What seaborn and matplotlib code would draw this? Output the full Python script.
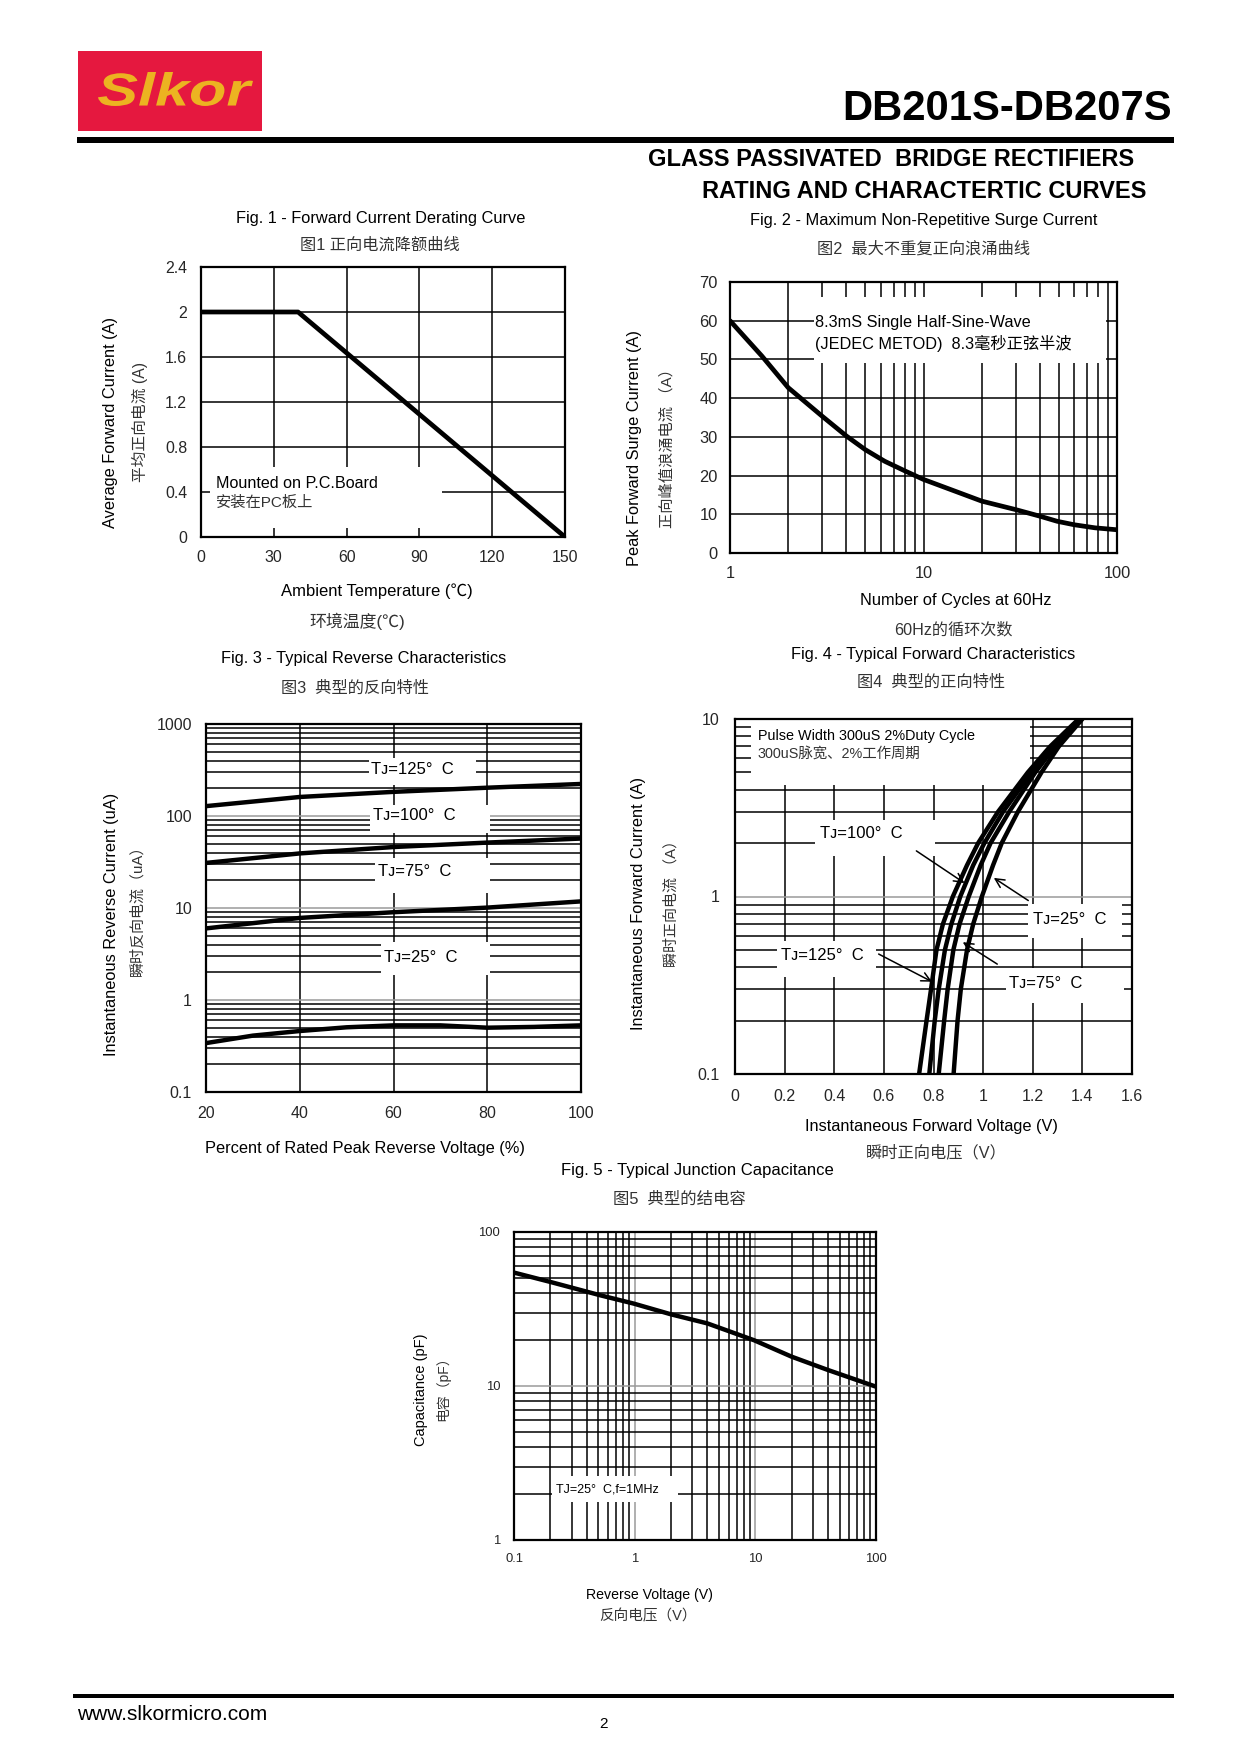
import numpy as np
import pandas as pd
import matplotlib
matplotlib.use('Agg')
import matplotlib.pyplot as plt
import seaborn as sns
from matplotlib.patches import Rectangle, PathPatch
from matplotlib.ticker import FixedLocator, FixedFormatter, NullFormatter, LogLocator
from matplotlib.textpath import TextPath
from matplotlib.font_manager import FontProperties
from matplotlib.transforms import Affine2D

# ---------------- data ----------------
fig1_temp = [0, 40, 150]
fig1_current = [2.0, 2.0, 0.0]
fig1_xticks = [0, 30, 60, 90, 120, 150]
fig1_yticks = [0, 0.4, 0.8, 1.2, 1.6, 2.0, 2.4]
fig1_yticklabels = ['0', '0.4', '0.8', '1.2', '1.6', '2', '2.4']

fig2_cycles = [1, 1.46, 2.0, 3.0, 4.0, 5.0, 6.3, 8.1, 10, 13.8, 20, 30, 40, 49, 60, 77, 100]
fig2_current = [60, 50.9, 42.7, 35.3, 30.2, 26.7, 23.7, 21.1, 19.0, 16.4, 13.4, 11.2, 9.5, 8.2, 7.3, 6.5, 6.0]
fig2_yticks = [0, 10, 20, 30, 40, 50, 60, 70]
fig2_xticks = [1, 10, 100]

fig3_pct = [20, 40, 60, 80, 100]
fig3_tj125 = [128, 161, 183, 203, 223]
fig3_tj100 = [30.9, 39.2, 46.0, 51.4, 56.9]
fig3_tj75 = [6.0, 7.8, 9.0, 10.1, 11.8]
fig3_pct25 = [20, 30, 40, 50, 60, 70, 80, 90, 100]
fig3_tj25 = [0.34, 0.41, 0.46, 0.505, 0.53, 0.53, 0.50, 0.51, 0.53]
fig3_yticks = [0.1, 1, 10, 100, 1000]
fig3_yticklabels = ['0.1', '1', '10', '100', '1000']
fig3_xticks = [20, 40, 60, 80, 100]

fig4_current = [0.1, 0.2, 0.3, 0.5, 0.7, 1.0, 1.5, 2.0, 3.0, 5.0, 7.0, 10.0]
fig4_v125 = [0.742, 0.772, 0.790, 0.812, 0.838, 0.878, 0.935, 0.980, 1.060, 1.180, 1.270, 1.385]
fig4_v100 = [0.783, 0.805, 0.821, 0.846, 0.872, 0.908, 0.960, 1.005, 1.080, 1.195, 1.280, 1.390]
fig4_v75 = [0.821, 0.843, 0.857, 0.880, 0.905, 0.942, 0.990, 1.030, 1.105, 1.210, 1.290, 1.395]
fig4_v25 = [0.881, 0.897, 0.910, 0.935, 0.960, 0.995, 1.040, 1.075, 1.140, 1.235, 1.305, 1.400]
fig4_xticks = [0, 0.2, 0.4, 0.6, 0.8, 1.0, 1.2, 1.4, 1.6]
fig4_xticklabels = ['0', '0.2', '0.4', '0.6', '0.8', '1', '1.2', '1.4', '1.6']
fig4_yticks = [0.1, 1, 10]
fig4_yticklabels = ['0.1', '1', '10']

fig5_volt = [0.1, 0.2, 0.52, 0.98, 2.0, 4.0, 9.8, 20, 40, 100]
fig5_cap = [54.5, 47.4, 38.8, 34.3, 29.2, 25.5, 19.8, 15.5, 12.7, 9.9]
fig5_xticks = [0.1, 1, 10, 100]
fig5_xticklabels = ['0.1', '1', '10', '100']
fig5_yticks = [1, 10, 100]
fig5_yticklabels = ['1', '10', '100']

# ---------------- style ----------------
sns.set_style('white')
plt.rcParams['font.family'] = ['Liberation Sans', 'Noto Sans CJK SC', 'DejaVu Sans']
plt.rcParams['axes.unicode_minus'] = False

W, H = 1240, 1754
fig = plt.figure(figsize=(W / 100, H / 100), dpi=100)
fig.patch.set_facecolor('white')

# overlay in pixel coordinates (drawn above the chart axes)
ov = fig.add_axes([0, 0, 1, 1])
ov.set_xlim(0, W)
ov.set_ylim(H, 0)
ov.axis('off')
ov.set_zorder(10)

CN = '#333333'
TS = 11.75   # figure title size
CS = 11.7    # chinese title size


def txt(x, y, s, size=11.5, ha='center', va='center', color='black', **kw):
    ov.text(x, y, s, fontsize=size, ha=ha, va=va, color=color, **kw)


def make_ax(l, t, r, b):
    ax = fig.add_axes([l / W, 1 - b / H, (r - l) / W, (b - t) / H])
    ax.set_facecolor('white')
    for s in ax.spines.values():
        s.set_visible(True)
        s.set_linewidth(1.6)
        s.set_color('black')
        s.set_zorder(5)
    ax.set_axisbelow(True)
    return ax


def whitebox(ax, x0, y0, x1, y1):
    r = Rectangle((x0 / W, 1 - y1 / H), (x1 - x0) / W, (y1 - y0) / H,
                  transform=fig.transFigure, facecolor='white', edgecolor='none', zorder=1.5)
    ax.add_patch(r)


# ---------------- header ----------------
ov.add_patch(Rectangle((78, 51), 184, 80, facecolor='#E5183F', edgecolor='none'))
tp = TextPath((0, 0), 'Slkor', size=100,
              prop=FontProperties(family='Liberation Sans', weight='bold', style='italic'))
ext = tp.get_extents()
tr = Affine2D().translate(-ext.x0, -ext.y0).scale(155 / ext.width, -34 / ext.height).translate(98, 106)
ov.add_patch(PathPatch(tr.transform_path(tp), facecolor='#ECB321', edgecolor='none'))

txt(1172, 109, 'DB201S-DB207S', size=30.2, ha='right', fontweight='bold')
ov.add_patch(Rectangle((77, 137), 1097, 6, facecolor='black', edgecolor='none'))
txt(648, 160, 'GLASS PASSIVATED  BRIDGE RECTIFIERS', size=17, ha='left', fontweight='bold')
txt(702, 191, 'RATING AND CHARACTERTIC CURVES', size=17, ha='left', fontweight='bold')

# footer
ov.add_patch(Rectangle((73, 1694), 1101, 4, facecolor='black', edgecolor='none'))
txt(77, 1714, 'www.slkormicro.com', size=15, ha='left')
txt(604, 1724, '2', size=11)

# ---------------- Fig 1 ----------------
ax1 = make_ax(201, 267, 565, 537)
sns.lineplot(x=fig1_temp, y=fig1_current, ax=ax1, color='black', lw=3.4, estimator=None, zorder=3)
ax1.set_xlim(0, 150)
ax1.set_ylim(0, 2.4)
ax1.set_xticks(fig1_xticks)
ax1.set_xticklabels([str(v) for v in fig1_xticks])
ax1.set_yticks(fig1_yticks)
ax1.set_yticklabels(fig1_yticklabels)
ax1.tick_params(which='both', length=0, labelsize=11.4)
ax1.tick_params(axis='y', pad=10)
ax1.tick_params(axis='x', pad=9)
ax1.grid(True, color='black', lw=1.1)
ax1.set_xlabel('')
ax1.set_ylabel('')
whitebox(ax1, 210, 467, 442, 528)
txt(216, 483, 'Mounted on P.C.Board', size=11.6, ha='left')
txt(216, 503, '安装在PC板上', size=11, ha='left', color=CN)
txt(381, 218, 'Fig. 1 - Forward Current Derating Curve', size=TS)
txt(380, 245, '图1 正向电流降额曲线', size=CS, color=CN)
txt(377, 591, 'Ambient Temperature (℃)', size=11.95)
txt(357, 621, '环境温度(℃)', size=12.2, color=CN)
txt(111, 422, 'Average Forward Current (A)', size=11.8, rotation=90)
txt(140, 422, '平均正向电流 (A)', size=11.3, rotation=90, color=CN)

# ---------------- Fig 2 ----------------
ax2 = make_ax(730, 282, 1117, 553)
ax2.set_xscale('log')
sns.lineplot(x=fig2_cycles, y=fig2_current, ax=ax2, color='black', lw=3.4, estimator=None, zorder=3)
ax2.set_xlim(1, 100)
ax2.set_ylim(0, 70)
ax2.xaxis.set_major_locator(FixedLocator(fig2_xticks))
ax2.xaxis.set_major_formatter(FixedFormatter(['1', '10', '100']))
ax2.xaxis.set_minor_locator(LogLocator(base=10, subs=np.arange(2, 10), numticks=20))
ax2.xaxis.set_minor_formatter(NullFormatter())
ax2.set_yticks(fig2_yticks)
ax2.set_yticklabels([str(v) for v in fig2_yticks])
ax2.tick_params(which='both', length=0, labelsize=11.8)
ax2.tick_params(axis='y', pad=9)
ax2.tick_params(axis='x', pad=9.5)
ax2.grid(True, which='major', color='black', lw=1.1)
ax2.grid(True, which='minor', axis='x', color='black', lw=1.1)
ax2.set_xlabel('')
ax2.set_ylabel('')
whitebox(ax2, 814, 297, 1106, 363)
txt(815, 323, '8.3mS Single Half-Sine-Wave', size=11.7, ha='left')
txt(815, 343, '(JEDEC METOD)  8.3毫秒正弦半波', size=11.7, ha='left')
txt(924, 221, 'Fig. 2 - Maximum Non-Repetitive Surge Current', size=TS)
txt(924, 249, '图2  最大不重复正向浪涌曲线', size=CS, color=CN)
txt(956, 601, 'Number of Cycles at 60Hz', size=11.8)
txt(953, 630, '60Hz的循环次数', size=11.6, color=CN)
txt(634, 448, 'Peak Forward Surge Current (A)', size=11.8, rotation=90)
txt(667, 445, '正向峰值浪涌电流 （A）', size=11, rotation=90, color=CN)

# ---------------- Fig 3 ----------------
ax3 = make_ax(206, 724, 581, 1092)
ax3.set_yscale('log')
for yy, xx in [(fig3_tj125, fig3_pct), (fig3_tj100, fig3_pct), (fig3_tj75, fig3_pct), (fig3_tj25, fig3_pct25)]:
    sns.lineplot(x=xx, y=yy, ax=ax3, color='black', lw=3.2, estimator=None, zorder=3)
ax3.set_xlim(20, 100)
ax3.set_ylim(0.1, 1000)
ax3.set_xticks(fig3_xticks)
ax3.set_xticklabels([str(v) for v in fig3_xticks])
ax3.yaxis.set_major_locator(FixedLocator(fig3_yticks))
ax3.yaxis.set_major_formatter(FixedFormatter(fig3_yticklabels))
ax3.yaxis.set_minor_locator(LogLocator(base=10, subs=np.arange(2, 10), numticks=20))
ax3.yaxis.set_minor_formatter(NullFormatter())
ax3.tick_params(which='both', length=0, labelsize=11.5)
ax3.tick_params(axis='y', pad=10)
ax3.tick_params(axis='x', pad=10)
ax3.grid(True, which='major', axis='x', color='black', lw=1.1)
ax3.grid(True, which='major', axis='y', color='#9a9a9a', lw=1.1)
ax3.grid(True, which='minor', axis='y', color='black', lw=1.1)
ax3.set_xlabel('')
ax3.set_ylabel('')
whitebox(ax3, 369, 758, 476, 785)
whitebox(ax3, 370, 805, 490, 833)
whitebox(ax3, 375, 858, 490, 893)
whitebox(ax3, 381, 942, 490, 975)
txt(412, 770, 'Tᴊ=125°  C', size=12)
txt(414, 816, 'Tᴊ=100°  C', size=12)
txt(415, 872, 'Tᴊ=75°  C', size=12)
txt(421, 958, 'Tᴊ=25°  C', size=12)
txt(364, 659, 'Fig. 3 - Typical Reverse Characteristics', size=TS)
txt(355, 688, '图3  典型的反向特性', size=CS, color=CN)
txt(365, 1149, 'Percent of Rated Peak Reverse Voltage (%)', size=11.8)
txt(112, 924, 'Instantaneous Reverse Current (uA)', size=11.8, rotation=90)
txt(137, 907, '瞬时反向电流（uA）', size=10.8, rotation=90, color=CN)

# ---------------- Fig 4 ----------------
ax4 = make_ax(735, 719, 1132, 1074)
ax4.set_yscale('log')
for vv in [fig4_v125, fig4_v100, fig4_v75, fig4_v25]:
    sns.lineplot(x=vv, y=fig4_current, ax=ax4, color='black', lw=3.2, estimator=None,
                 sort=False, zorder=3)
ax4.set_xlim(0, 1.6)
ax4.set_ylim(0.1, 10)
ax4.set_xticks(fig4_xticks)
ax4.set_xticklabels(fig4_xticklabels)
ax4.yaxis.set_major_locator(FixedLocator(fig4_yticks))
ax4.yaxis.set_major_formatter(FixedFormatter(fig4_yticklabels))
ax4.yaxis.set_minor_locator(LogLocator(base=10, subs=np.arange(2, 10), numticks=20))
ax4.yaxis.set_minor_formatter(NullFormatter())
ax4.tick_params(which='both', length=0, labelsize=11.5)
ax4.tick_params(axis='y', pad=11)
ax4.tick_params(axis='x', pad=10.5)
ax4.grid(True, which='major', axis='x', color='black', lw=1.1)
ax4.grid(True, which='major', axis='y', color='#9a9a9a', lw=1.1)
ax4.grid(True, which='minor', axis='y', color='black', lw=1.1)
ax4.set_xlabel('')
ax4.set_ylabel('')
whitebox(ax4, 751, 719, 1030, 785)
whitebox(ax4, 815, 820, 935, 856)
whitebox(ax4, 1028, 904, 1122, 938)
whitebox(ax4, 777, 941, 876, 977)
whitebox(ax4, 1006, 968, 1124, 1003)
txt(758, 736, 'Pulse Width 300uS 2%Duty Cycle', size=10.4, ha='left')
txt(758, 754, '300uS脉宽、2%工作周期', size=10.4, ha='left', color=CN)
txt(861, 833, 'Tᴊ=100°  C', size=12)
txt(1070, 920, 'Tᴊ=25°  C', size=12)
txt(822, 956, 'Tᴊ=125°  C', size=12)
txt(1046, 983, 'Tᴊ=75°  C', size=12)
arrow_kw = dict(arrowstyle='->', color='black', lw=1.1, mutation_scale=16, shrinkA=0, shrinkB=0)
ax4.annotate('', xy=(0.925, 1.19), xytext=(0.731, 1.807), arrowprops=arrow_kw, zorder=4)
ax4.annotate('', xy=(1.043, 1.273), xytext=(1.182, 0.949), arrowprops=arrow_kw, zorder=4)
ax4.annotate('', xy=(0.794, 0.331), xytext=(0.579, 0.474), arrowprops=arrow_kw, zorder=4)
ax4.annotate('', xy=(0.918, 0.553), xytext=(1.057, 0.416), arrowprops=arrow_kw, zorder=4)
txt(933, 655, 'Fig. 4 - Typical Forward Characteristics', size=TS)
txt(931, 682, '图4  典型的正向特性', size=CS, color=CN)
txt(931, 1126, 'Instantaneous Forward Voltage (V)', size=11.8)
txt(936, 1152, '瞬时正向电压（V）', size=11.7, color=CN)
txt(639, 903, 'Instantaneous Forward Current (A)', size=11.8, rotation=90)
txt(671, 900, '瞬时正向电流 （A）', size=10.8, rotation=90, color=CN)

# ---------------- Fig 5 ----------------
ax5 = make_ax(514, 1232, 876, 1540)
ax5.set_xscale('log')
ax5.set_yscale('log')
sns.lineplot(x=fig5_volt, y=fig5_cap, ax=ax5, color='black', lw=3.2, estimator=None, zorder=3)
ax5.set_xlim(0.1, 100)
ax5.set_ylim(1, 100)
ax5.xaxis.set_major_locator(FixedLocator(fig5_xticks))
ax5.xaxis.set_major_formatter(FixedFormatter(fig5_xticklabels))
ax5.yaxis.set_major_locator(FixedLocator(fig5_yticks))
ax5.yaxis.set_major_formatter(FixedFormatter(fig5_yticklabels))
for axis in (ax5.xaxis, ax5.yaxis):
    axis.set_minor_locator(LogLocator(base=10, subs=np.arange(2, 10), numticks=20))
    axis.set_minor_formatter(NullFormatter())
ax5.tick_params(which='both', length=0, labelsize=9.4)
ax5.tick_params(axis='y', pad=10)
ax5.tick_params(axis='x', pad=9.5)
ax5.grid(True, which='major', color='#9a9a9a', lw=1.1)
ax5.grid(True, which='minor', color='black', lw=1.1)
ax5.set_xlabel('')
ax5.set_ylabel('')
whitebox(ax5, 552, 1476, 678, 1502)
txt(556, 1490, 'TJ=25°  C,f=1MHz', size=9, ha='left')
txt(697, 1171, 'Fig. 5 - Typical Junction Capacitance', size=12)
txt(679, 1199, '图5  典型的结电容', size=11.8, color=CN)
txt(649, 1595, 'Reverse Voltage (V)', size=10.2)
txt(648, 1616, '反向电压（V）', size=10.5, color=CN)
txt(421, 1390, 'Capacitance (pF)', size=10.5, rotation=90)
txt(443, 1385, '电容（pF）', size=10, rotation=90, color=CN)

fig.savefig('out.png', dpi=100, facecolor='white')
